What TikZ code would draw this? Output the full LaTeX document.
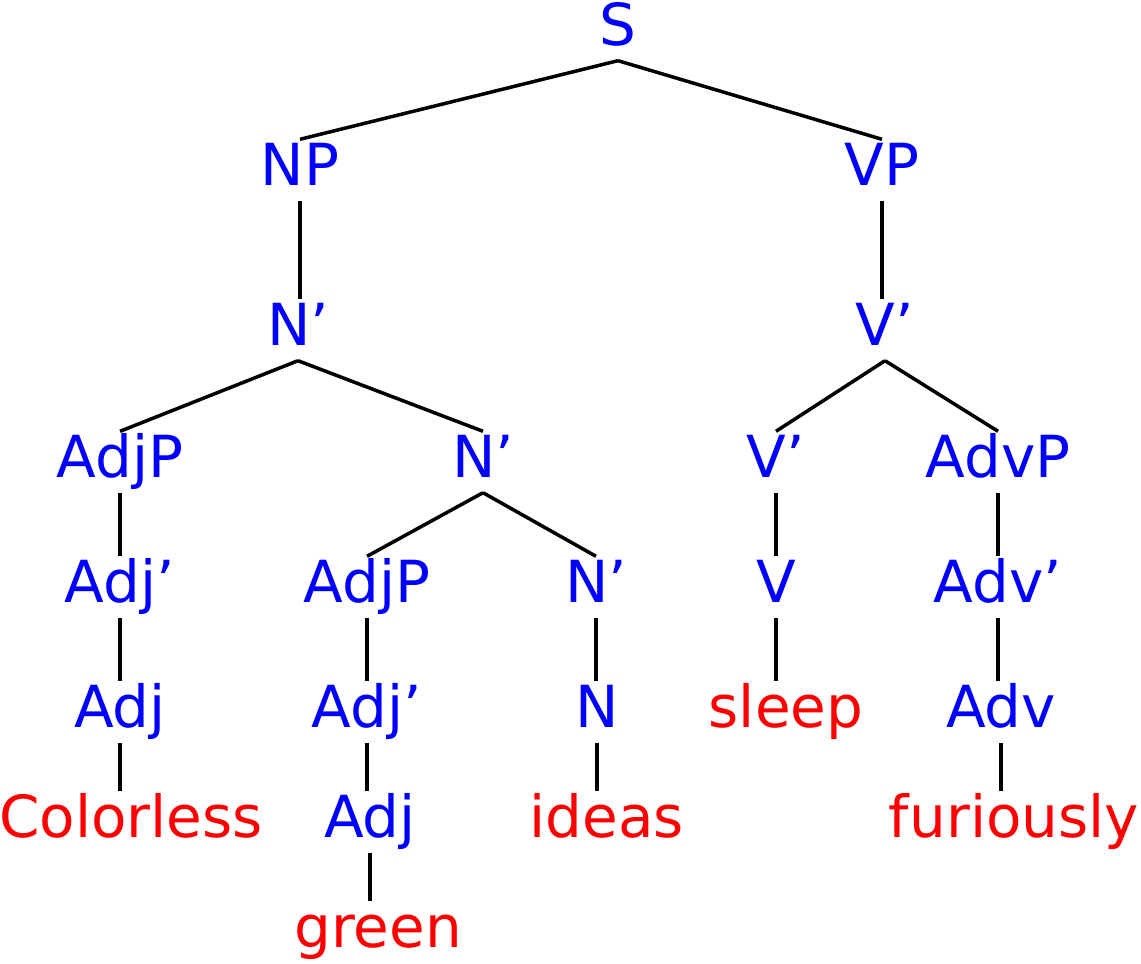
\documentclass[tikz,border=0pt]{standalone}
\usepackage{fontspec}
\setmainfont{DejaVu Sans}
\newcommand{\ap}{\char39}
\begin{document}
\begin{tikzpicture}[x=1pt,y=-1pt,
  cat/.style={text=blue,font=\fontsize{58}{60}\selectfont,inner sep=2pt,text height=44pt,text depth=13pt,anchor=center},
  word/.style={cat,text=red},
  edge/.style={line width=3.5pt}]
\useasboundingbox (0,0) rectangle (1141,964);
\node[cat] (S) at (618,30) {S};
\node[cat] (NP) at (300,170) {NP};
\node[cat] (VP) at (882,170) {VP};
\node[cat] (N1) at (298,330) {N\ap};
\node[cat] (V1) at (885,330) {V\ap};
\node[cat] (AP1) at (120,462) {AdjP};
\node[cat] (N2) at (483,462) {N\ap};
\node[cat] (V2) at (776,462) {V\ap};
\node[cat] (AdvP) at (998,462) {AdvP};
\node[cat] (A1b) at (120,587) {Adj\ap};
\node[cat] (AP2) at (367,587) {AdjP};
\node[cat] (N3) at (596,587) {N\ap};
\node[cat] (V) at (776,587) {V};
\node[cat] (Advb) at (998,587) {Adv\ap};
\node[cat] (A1) at (120,712) {Adj};
\node[cat] (A2b) at (367,712) {Adj\ap};
\node[cat] (N) at (597,712) {N};
\node[word] (sleep) at (786,712) {sleep};
\node[cat] (Adv) at (1001,712) {Adv};
\node[word] (col) at (131,822) {Colorless};
\node[cat] (A2) at (370,822) {Adj};
\node[word] (ideas) at (607,822) {ideas};
\node[word] (fur) at (1014,822) {furiously};
\node[word] (green) at (378,932) {green};
\foreach \a/\b in {S/NP,S/VP,N1/AP1,N1/N2,V1/V2,V1/AdvP,N2/AP2,N2/N3}
  \draw[edge] (\a.south) -- (\b.north);
\foreach \a/\b in {NP/N1,VP/V1,AP1/A1b,V2/V,AdvP/Advb,A1b/A1,AP2/A2b,N3/N,V/sleep,Advb/Adv,A1/col,A2b/A2,N/ideas,Adv/fur,A2/green}
  \draw[edge] (\a.south) -- (\a.south |- \b.north);
\end{tikzpicture}
\end{document}
